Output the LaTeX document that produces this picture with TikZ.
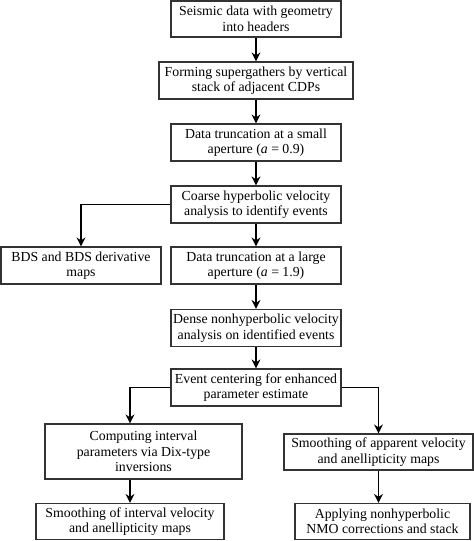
\documentclass[tikz,border=0pt]{standalone}
\usepackage{fontspec}
\setmainfont{Liberation Serif}
\usetikzlibrary{arrows.meta,positioning}

\tikzset{
  stepbox/.style={draw=black!80, line width=1.2pt, align=center, inner sep=0pt,
    minimum height=37pt, font=\fontsize{13.8}{15.5}\selectfont},
  flow/.style={line width=1.5pt, -{Stealth[length=9pt,width=9pt,inset=3pt]}}
}

\begin{document}
\begin{tikzpicture}[x=1pt,y=1pt]
        \useasboundingbox (0,0) rectangle (474,-541);
        % main column
        \node[stepbox, minimum width=170pt, minimum height=36pt] (seis) at (256,-19) {Seismic data with geometry\\into headers};
        \node[stepbox, minimum width=194pt] (super) at (256,-80.5) {Forming supergathers by vertical\\stack of adjacent CDPs};
        \node[stepbox, minimum width=170pt] (small) at (256,-142.5) {Data truncation at a small\\aperture (\textit{a} = 0.9)};
        \node[stepbox, minimum width=170pt] (coarse) at (256,-204.5) {Coarse hyperbolic velocity\\analysis to identify events};
        \node[stepbox, minimum width=160pt] (bds) at (81,-265.5) {BDS and BDS derivative\\maps};
        \node[stepbox, minimum width=170pt] (large) at (256,-265.5) {Data truncation at a large\\aperture (\textit{a} = 1.9)};
        \node[stepbox, minimum width=170pt] (dense) at (256,-328) {Dense nonhyperbolic velocity\\analysis on identified events};
        \node[stepbox, minimum width=170pt] (center) at (256,-387.5) {Event centering for enhanced\\parameter estimate};
        % left branch
        \node[stepbox, minimum width=197pt, minimum height=55pt] (dix) at (143.5,-451.5) {Computing interval\\parameters via Dix-type\\inversions};
        \node[stepbox, minimum width=188pt, minimum height=36pt] (intsm) at (130,-521.5) {Smoothing of interval velocity\\and anellipticity maps};
        % right branch
        \node[stepbox, minimum width=189pt, minimum height=36pt] (appsm) at (378.5,-452) {Smoothing of apparent velocity\\and anellipticity maps};
        \node[stepbox, minimum width=175pt, minimum height=36pt] (nmo) at (382.5,-521.5) {Applying nonhyperbolic\\NMO corrections and stack};

        \draw[flow] (seis) -- (super);
        \draw[flow] (super) -- (small);
        \draw[flow] (small) -- (coarse);
        \draw[flow] (coarse) -- (large);
        \draw[flow] (coarse.west) -| (bds.north);
        \draw[flow] (large) -- (dense);
        \draw[flow] (dense) -- (center);
        \draw[flow] (center.west) -| (dix.north -| intsm.north);
        \draw[flow] (center.east) -| (appsm.north);
        \draw[flow] (dix.south -| intsm.north) -- (intsm.north);
        \draw[flow] (appsm.south) -- (appsm.south |- nmo.north);
\end{tikzpicture}
\end{document}
